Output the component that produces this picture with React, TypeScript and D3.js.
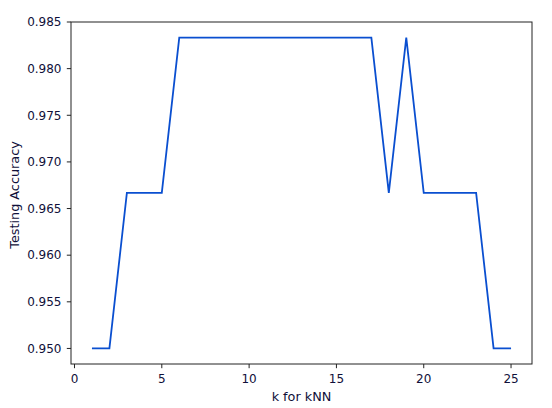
import React from "react";
import * as d3 from "d3";

const kValues = [1,2,3,4,5,6,7,8,9,10,11,12,13,14,15,16,17,18,19,20,21,22,23,24,25];
const accuracy = [0.95,0.95,0.96667,0.96667,0.96667,0.98333,0.98333,0.98333,0.98333,0.98333,0.98333,0.98333,0.98333,0.98333,0.98333,0.98333,0.98333,0.96667,0.98333,0.96667,0.96667,0.96667,0.96667,0.95,0.95];
const xTicks = [0,5,10,15,20,25];
const yTicks = [0.95,0.955,0.96,0.965,0.97,0.975,0.98,0.985];

export default function App() {
  const W = 552, H = 408;
  const left = 71, right = 532, top = 22, bottom = 364;
  const x = d3.scaleLinear().domain([-0.2, 26.2]).range([left, right]);
  const y = d3.scaleLinear().domain([0.948333, 0.985]).range([bottom, top]);
  const line = d3.line<number>().x((_, i) => x(kValues[i])).y(d => y(d));
  const textColor = "#10103a";
  const font = "DejaVu Sans, sans-serif";
  return (
    <svg width={W} height={H} style={{ position: "absolute", left: 0, top: 0, background: "#fff" }}>
      <rect x={0} y={0} width={W} height={H} fill="#fff" />
      <path d={line(accuracy) || ""} fill="none" stroke="#0a4fd0" strokeWidth={1.8} strokeLinejoin="miter" />
      <rect x={left} y={top} width={right - left} height={bottom - top} fill="none" stroke="#222" strokeWidth={1} />
      {xTicks.map(t => (
        <g key={t}>
          <line x1={x(t)} x2={x(t)} y1={bottom} y2={bottom + 4.2} stroke="#222" strokeWidth={1} />
          <text x={x(t)} y={bottom + 19} textAnchor="middle" fontFamily={font} fontSize={12} fill={textColor}>{t}</text>
        </g>
      ))}
      {yTicks.map(t => (
        <g key={t}>
          <line x1={left - 4.2} x2={left} y1={y(t)} y2={y(t)} stroke="#222" strokeWidth={1} />
          <text x={left - 9.5} y={y(t) + 4.3} textAnchor="end" fontFamily={font} fontSize={12} fill={textColor}>{t.toFixed(3)}</text>
        </g>
      ))}
      <text x={(left + right) / 2} y={401} textAnchor="middle" fontFamily={font} fontSize={12.8} fill={textColor}>k for kNN</text>
      <text transform={`translate(18.5,195) rotate(-90)`} textAnchor="middle" fontFamily={font} fontSize={12.8} fill={textColor}>Testing Accuracy</text>
    </svg>
  );
}
